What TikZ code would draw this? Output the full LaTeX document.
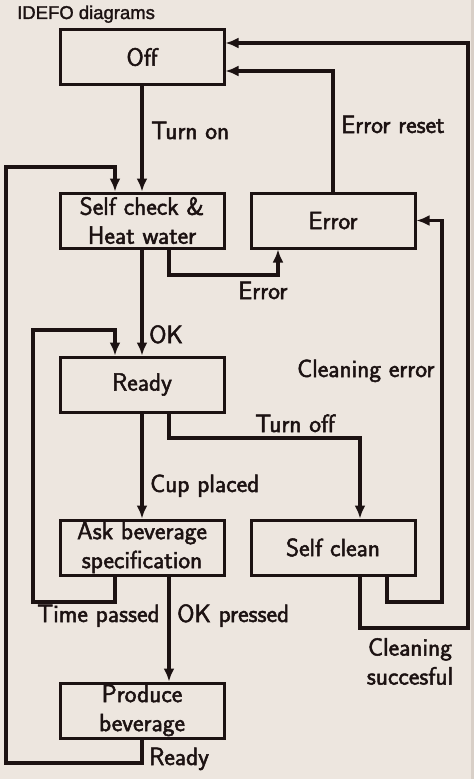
\documentclass[tikz,border=0pt]{standalone}
\usepackage{fontspec}
\newfontfamily\titlefont{Liberation Sans}[FakeBold=1.5]
\newfontfamily\diagfont{Latin Modern Sans}[FakeBold=2]
\usetikzlibrary{arrows.meta}
\definecolor{bgc}{HTML}{EDE6DF}
\definecolor{ink}{HTML}{1C1212}
\definecolor{edge}{HTML}{D8CFC7}
\tikzset{
  box/.style={draw=ink, line width=3pt, minimum width=164pt, minimum height=55pt,
    inner sep=0pt, align=center, font=\diagfont\fontsize{25}{29}\selectfont, text=ink},
  conn/.style={draw=ink, line width=3.3pt, -{Latex[length=13pt,width=11pt]}},
  lbl/.style={inner sep=0pt, font=\diagfont\fontsize{25}{29}\selectfont, text=ink}
}
\begin{document}
\begin{tikzpicture}[x=1pt,y=-1pt]
\useasboundingbox (0,0) rectangle (474,779);
\fill[bgc] (0,0) rectangle (474,779);
\fill[edge] (471,0) rectangle (474,779);
\node[anchor=base west, inner sep=0pt, font=\titlefont\fontsize{18.5}{20}\selectfont, text=ink] (title) at (17,19) {IDEFO diagrams};

\node[box] (off) at (142,57) {Off};
\node[box] (self) at (142,220.5) {Self check \&\\Heat water};
\node[box] (err) at (333,220.5) {Error};
\node[box] (ready) at (142,384.5) {Ready};
\node[box] (ask) at (142,547.5) {Ask beverage\\specification};
\node[box] (clean) at (333,547.5) {Self clean};
\node[box] (prod) at (142,710.5) {Produce\\beverage};

% Off -> Self check
\draw[conn] (off.south) -- (self.north);
% Produce -> Self check (Ready)
\draw[conn] (prod.south) -- (142,763) -- (6,763) -- (6,167) -- (115,167) -- ([xshift=-27pt]self.north);
% Self check -> Error
\draw[conn] ([xshift=27pt]self.south) -- (169,275) -- (278,275) -- ([xshift=-55pt]err.south);
% Self check -> Ready
\draw[conn] (self.south) -- (ready.north);
% Ask -> Ready (Time passed)
\draw[conn] ([xshift=-27pt]ask.south) -- (115,602) -- (33,602) -- (33,330) -- (115,330) -- ([xshift=-27pt]ready.north);
% Ready -> Self clean
\draw[conn] ([xshift=27pt]ready.south) -- (169,438) -- (360,438) -- ([xshift=27pt]clean.north);
% Ready -> Ask
\draw[conn] (ready.south) -- (ask.north);
% Ask -> Produce
\draw[conn] ([xshift=27pt]ask.south) -- ([xshift=27pt]prod.north);
% Self clean -> Error
\draw[conn] ([xshift=54pt]clean.south) -- (387,602) -- (442,602) -- (442,220.5) -- (err.east);
% Self clean -> Off
\draw[conn] ([xshift=27pt]clean.south) -- (360,628) -- (468,628) -- (468,43) -- ([yshift=14pt]off.east);
% Error -> Off
\draw[conn] (err.north) -- (333,71) -- ([yshift=-14pt]off.east);

% labels
\node[lbl, anchor=base west] (lturnon) at (151,139) {Turn on};
\node[lbl, anchor=base west] (lreset) at (341,133) {Error reset};
\node[lbl, anchor=base west] (lerr) at (238,299) {Error};
\node[lbl, anchor=base west] (lok) at (149,343) {OK};
\node[lbl, anchor=base west] (lcerr) at (297,377) {Cleaning error};
\node[lbl, anchor=base west] (lturnoff) at (255,432) {Turn off};
\node[lbl, anchor=base west] (lcup) at (150,492) {Cup placed};
\node[lbl, anchor=base west] (ltime) at (37,622) {Time passed};
\node[lbl, anchor=base west] (lokp) at (177,622) {OK pressed};
\node[lbl, anchor=north, align=center] (lsucc) at (410,638) {Cleaning\\succesful};
\node[lbl, anchor=base west] (lready) at (149,765) {Ready};
\end{tikzpicture}
\end{document}
